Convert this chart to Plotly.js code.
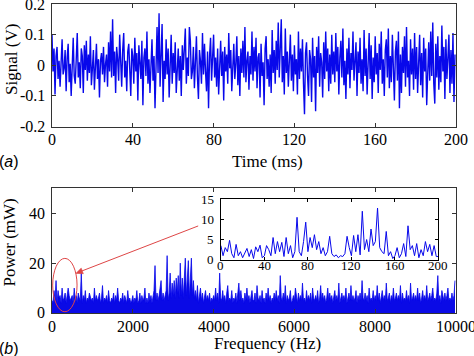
<!DOCTYPE html>
<html>
<head>
<meta charset="utf-8">
<script src="https://cdn.plot.ly/plotly-3.0.1.min.js"></script>
<style>html,body{margin:0;padding:0;background:#fff;}#chart{width:474px;height:356px;}</style>
</head>
<body>
<div id="chart"></div>
<script>
// (a) Signal, millivolts, sampled every 0.5 ms from 0 to 199.5 ms
const signalStepMs = 0.5;
const signalMilliVolts = [
 100,-20,55,-95,30,60,-45,15,-70,40,85,-30,-10,50,-85,25,70,-55,5,-100,
 45,90,-35,-60,20,105,-40,10,-75,55,30,-90,65,-15,80,-50,35,-25,95,-65,
 -10,50,-80,30,70,-45,20,-105,15,40,-30,60,-55,5,35,-70,75,-20,110,-40,
 150,-35,45,-90,60,20,-50,100,-25,-70,50,105,-40,15,-85,45,70,-30,-100,55,
 30,-60,90,-20,40,-115,65,10,-45,80,-130,25,55,-35,110,-60,20,-90,45,85,
 -50,30,-140,60,125,-25,170,-70,40,135,-120,15,-45,85,-30,55,-105,20,100,-60,
 40,-25,75,-90,10,55,-50,30,-100,65,-15,45,120,-60,25,-35,125,80,-45,-20,
 60,-75,35,95,-40,-110,50,15,-60,105,-30,70,-20,-85,45,-140,30,90,-50,10,
 100,-40,25,-70,55,-95,15,80,-35,45,-115,60,-20,35,-60,105,-10,50,-85,20,
 70,-45,5,95,-65,30,-100,55,-25,80,-40,125,-55,15,45,-80,30,-30,110,-50,
 60,-20,90,-75,25,40,-105,70,-35,10,-130,55,95,-45,20,-70,35,-90,115,-25,
 50,-60,80,-15,140,-40,60,150,-55,30,-95,120,-25,45,-70,15,100,-50,35,-85,
 65,-30,20,-95,110,-45,55,-20,85,-60,-160,40,75,-35,-100,50,20,-120,90,-40,
 30,-150,60,-25,95,-70,40,10,-105,75,-45,110,-20,55,-85,35,-60,100,-30,45,
 -55,105,-20,60,-95,25,80,-40,120,-65,15,-110,55,-30,90,-75,40,-15,110,-50,
 30,75,-100,45,-25,90,-60,20,-85,115,-35,55,-95,10,105,-45,65,-110,25,-55,
 95,-30,40,-90,70,-15,110,-60,20,-100,50,85,-40,120,-75,30,-55,100,-20,-115,
 45,80,-50,110,-140,35,-90,60,-25,95,-70,125,-40,15,-100,85,-30,55,-80,105,
 -45,60,-90,20,100,-65,40,-105,90,-20,55,-130,30,75,-50,110,-35,140,-60,-125,
 70,-40,95,-80,30,-55,130,-20,60,-110,85,-45,25,100,-90,50,-60,105,-120,35
];
const signalVolts = signalMilliVolts.map(v => v / 1000);

// (b) Power spectrum, mW, every 25 Hz from 0 to 9975 Hz
const spectrumStepHz = 25;
const powerMilliWatts = [
 5,4,9,5,13,4,9,6,7,4,10,5,6,8,4,7,10,7,5,6,
 7,4,10,5,7,4,8,6,5,16,4,7,5,9,4,6,5,8,6,5,
 6,4,10,5,7,5,6,8,4,6,11,4,6,5,7,4,9,5,4,6,
 5,8,4,7,5,10,5,4,6,5,8,4,7,5,4,9,5,6,4,5,
 7,4,6,5,9,4,5,8,4,7,5,6,10,4,6,4,8,5,7,4,
 6,9,19,5,8,5,7,10,13,5,8,5,7,9,23,5,8,16,6,12,
 7,13,6,14,8,15,6,20,7,14,6,13,22,7,14,21,6,12,22,7,
 13,6,9,5,11,4,7,10,5,8,4,6,9,5,7,5,8,4,6,5,
 7,5,10,5,8,4,16,6,5,9,5,7,4,8,11,5,6,5,9,4,
 6,5,8,4,7,12,5,9,5,6,4,8,5,10,5,7,4,6,9,5,
 5,8,4,11,6,5,7,4,9,5,6,4,8,5,10,5,7,4,6,5,
 8,5,9,5,7,4,15,6,5,8,5,11,4,7,5,6,9,4,5,7,
 5,10,6,4,8,5,7,5,12,5,6,4,9,5,7,5,8,4,10,6,
 5,7,5,9,4,6,11,5,8,5,7,4,6,10,5,8,5,7,4,6,
 9,5,7,5,12,4,6,8,5,7,5,10,4,6,8,5,11,5,7,5,
 6,9,4,7,5,8,5,13,6,5,8,5,7,4,10,5,6,5,9,5,
 7,5,11,5,8,4,6,9,5,7,5,12,5,6,8,4,7,5,10,5,
 6,8,5,7,5,11,4,8,5,6,5,9,5,7,4,12,5,6,8,5,
 7,5,10,5,8,4,6,9,5,7,5,11,5,6,8,5,7,10,5,6,
 5,8,15,5,7,4,9,6,5,8,5,7,10,5,6,5,8,5,7,13
];

// Inset: 0-200 Hz, every 2 Hz
const insetStepHz = 2;
const insetPower = [
 3.5,1,3,2,4.8,1.5,0.5,3.8,1,2,
 0.5,1.5,2.8,0.8,2.5,0.3,3.2,2,3.6,0.5,
 1,3.5,2.5,1,5.5,1.5,4.5,2,4.3,0.8,
 5.5,1.5,3.5,0.5,2,10.5,2,1,4.5,9.3,
 2,5.5,3,6.2,2.5,4.5,1.5,3,1,2,
 5.8,1.5,0.8,1.2,0.5,1,0.8,1.5,5.8,3,
 1,6,2,6.2,1.2,12,2.5,5,2,7.6,
 3.5,4.5,12.8,3,2,1.5,7,1,2,0.3,
 1,3,0.5,1.5,4,0.8,8.4,2.5,3.5,1,
 4,0.5,2.5,1,4.5,2,3.8,1,3.5,0.8,
 0.8
];

const xTicksA = [0, 40, 80, 120, 160, 200];
const yTicksA = [-0.2, -0.1, 0, 0.1, 0.2];
const yTickTextA = ['-0.2', '-0.1', '0', '0.1', '0.2'];
const xTicksB = [0, 2000, 4000, 6000, 8000, 10000];
const xTickTextB = ['0', '2000', '4000', '6000', '8000', '10000'];
const yTicksB = [0, 20, 40];
const xTicksInset = [0, 40, 80, 120, 160, 200];
const yTicksInset = [0, 5, 10, 15];

const blue = 'rgb(8,8,235)';
const red = 'rgb(222,70,70)';
const serif = 'Liberation Serif, Times New Roman, Times, serif';
const sans = 'Liberation Sans, Arial, sans-serif';

function mainAxis(extra) {
  return Object.assign({
    showline: true, mirror: 'ticks', linecolor: '#333', linewidth: 1,
    ticks: 'inside', ticklen: 4, tickcolor: '#333', showgrid: false, zeroline: false,
    showticklabels: false
  }, extra);
}
function insetAxis(extra) {
  return Object.assign({
    showline: true, mirror: 'ticks', linecolor: '#000', linewidth: 1,
    ticks: 'inside', ticklen: 3, tickcolor: '#000', showgrid: false, zeroline: false,
    showticklabels: false
  }, extra);
}

const traces = [
  {type: 'scatter', mode: 'lines', x0: 0, dx: signalStepMs, y: signalVolts,
   xaxis: 'x', yaxis: 'y', line: {color: blue, width: 1.4}, hoverinfo: 'skip'},
  {type: 'scatter', mode: 'lines', x0: 0, dx: spectrumStepHz, y: powerMilliWatts,
   xaxis: 'x2', yaxis: 'y2', line: {color: blue, width: 0.8}, fill: 'tozeroy',
   fillcolor: 'rgb(10,10,230)', hoverinfo: 'skip'},
  {type: 'scatter', mode: 'lines', x0: 0, dx: insetStepHz, y: insetPower,
   xaxis: 'x3', yaxis: 'y3', line: {color: blue, width: 1}, hoverinfo: 'skip'}
];

function axisLabel(text, x, y, angle) {
  return {text: text, xref: 'paper', yref: 'paper', x: x, y: y, textangle: angle || 0,
    showarrow: false, xanchor: 'center', yanchor: 'middle', font: {family: serif, size: 17, color: '#000'}};
}
function panelLabel(text, x, y) {
  return {text: text, xref: 'paper', yref: 'paper', x: x, y: y,
    showarrow: false, xanchor: 'center', yanchor: 'middle', font: {family: sans, size: 16, color: '#000'}};
}
// Tick labels placed on the axes' own scales
function xTickLabels(vals, texts, xref, yPaper, size) {
  return vals.map((v, i) => ({text: texts ? texts[i] : String(v), xref: xref, yref: 'paper', x: v, y: yPaper,
    showarrow: false, xanchor: 'center', yanchor: 'middle', font: {family: serif, size: size, color: '#000'}}));
}
function yTickLabels(vals, texts, yref, xPaper, size) {
  return vals.map((v, i) => ({text: texts ? texts[i] : String(v), xref: 'paper', yref: yref, x: xPaper, y: v,
    showarrow: false, xanchor: 'right', yanchor: 'middle', font: {family: serif, size: size, color: '#000'}}));
}

const layout = {
  width: 474, height: 356,
  margin: {l: 52, r: 18, t: 4, b: 43},
  paper_bgcolor: '#fff', plot_bgcolor: '#fff',
  showlegend: false,
  font: {family: serif, size: 16, color: '#000'},
  xaxis: mainAxis({domain: [0, 1], anchor: 'y', range: [0, 200], tickvals: xTicksA}),
  yaxis: mainAxis({domain: [0.6033, 1], anchor: 'x', range: [-0.2, 0.2], tickvals: yTicksA}),
  xaxis2: mainAxis({domain: [0, 1], anchor: 'y2', range: [0, 10000], tickvals: xTicksB}),
  yaxis2: mainAxis({domain: [0, 0.4035], anchor: 'x2', range: [0, 50], tickvals: yTicksB}),
  xaxis3: insetAxis({domain: [0.418, 0.9566], anchor: 'y3', range: [0, 200], tickvals: xTicksInset}),
  yaxis3: insetAxis({domain: [0.1723, 0.3686], anchor: 'x3', range: [0, 15], tickvals: yTicksInset}),
  shapes: [
    {type: 'circle', xref: 'x2', yref: 'y2', x0: 17, x1: 620, y0: 0.5, y1: 21.9,
     line: {color: red, width: 1}},
    {type: 'line', xref: 'x2', yref: 'y2', x0: 3618, y0: 34.9, x1: 700, y1: 16.6,
     line: {color: red, width: 1}},
    {type: 'path', xref: 'x2', yref: 'y2', path: 'M 589 15.88 L 777 15.76 L 723 18.02 Z',
     fillcolor: red, line: {color: red, width: 0.5}}
  ],
  annotations: [
    axisLabel('Signal (V)', -0.099, 0.819, -90),
    axisLabel('Time (ms)', 0.533, 0.489),
    axisLabel('Power (mW)', -0.104, 0.228, -90),
    axisLabel('Frequency (Hz)', 0.533, -0.0993),
    panelLabel('(<i>a</i>)', -0.106, 0.489),
    panelLabel('(<i>b</i>)', -0.106, -0.115)
  ].concat(
    xTickLabels(xTicksA, null, 'x', 0.5603, 16),
    yTickLabels(yTicksA, yTickTextA, 'y', -0.012, 16),
    xTickLabels(xTicksB, xTickTextB, 'x2', -0.0443, 16),
    yTickLabels(yTicksB, null, 'y2', -0.012, 16),
    xTickLabels(xTicksInset, null, 'x3', 0.153, 13),
    yTickLabels(yTicksInset, null, 'y3', 0.4064, 13)
  )
};

Plotly.newPlot('chart', traces, layout, {staticPlot: true, displayModeBar: false});
</script>
</body>
</html>
